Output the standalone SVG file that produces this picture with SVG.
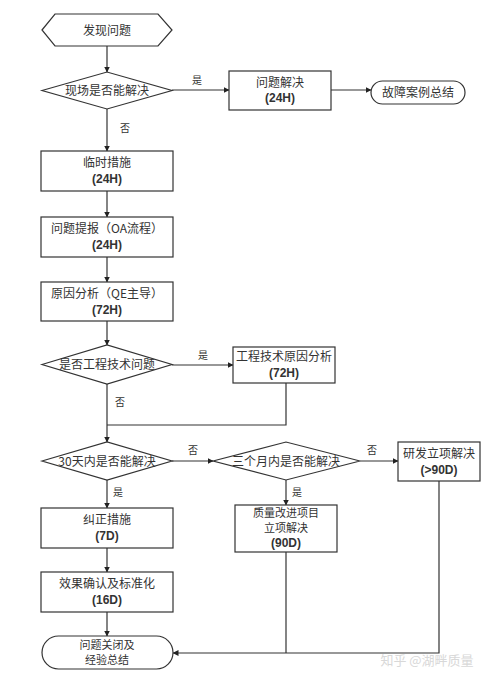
<svg xmlns="http://www.w3.org/2000/svg" width="491" height="682" viewBox="0 0 491 682">
<defs>
<marker id="ah" markerWidth="6" markerHeight="6" refX="5.5" refY="3" orient="auto" markerUnits="userSpaceOnUse">
<path d="M0,0 L6,3 L0,6 Z" fill="#222"/>
</marker>
<style>
.s{fill:#fff;stroke:#333;stroke-width:1.2}
.t{font-family:"Noto Sans CJK SC","Liberation Sans",sans-serif;font-size:12px;fill:#333;text-anchor:middle}
.m{font-family:"Noto Sans CJK SC","Liberation Sans",sans-serif;font-size:11px;fill:#333;text-anchor:middle}
.b{font-family:"Liberation Sans","Noto Sans CJK SC",sans-serif;font-size:12px;font-weight:bold;fill:#333;text-anchor:middle}
.l{font-family:"Noto Sans CJK SC",sans-serif;font-size:10px;fill:#333;text-anchor:middle}
.c{fill:none;stroke:#333;stroke-width:1.2}
</style>
</defs>
<rect width="491" height="682" fill="#fff"/>
<g id="connectors">
<path class="c" d="M107,46 V72" marker-end="url(#ah)"/>
<path class="c" d="M172,90 H229" marker-end="url(#ah)"/>
<path class="c" d="M331,90 H371" marker-end="url(#ah)"/>
<path class="c" d="M107,109 V151" marker-end="url(#ah)"/>
<path class="c" d="M107,191 V217" marker-end="url(#ah)"/>
<path class="c" d="M107,257 V282" marker-end="url(#ah)"/>
<path class="c" d="M107,321 V345" marker-end="url(#ah)"/>
<path class="c" d="M172,365 H233" marker-end="url(#ah)"/>
<path class="c" d="M107,384 V442" marker-end="url(#ah)"/>
<path class="c" d="M286,383 V425 H107"/>
<path class="c" d="M172,461 H213" marker-end="url(#ah)"/>
<path class="c" d="M360,461 H398" marker-end="url(#ah)"/>
<path class="c" d="M107,480 V508" marker-end="url(#ah)"/>
<path class="c" d="M286,480 V505" marker-end="url(#ah)"/>
<path class="c" d="M107,548 V572" marker-end="url(#ah)"/>
<path class="c" d="M107,612 V636" marker-end="url(#ah)"/>
<path class="c" d="M439,481 V653 H173" marker-end="url(#ah)"/>
<path class="c" d="M286,552 V653"/>
<text class="l" x="197" y="84">是</text>
<text class="l" x="125" y="132">否</text>
<text class="l" x="203" y="359">是</text>
<text class="l" x="120" y="406">否</text>
<text class="l" x="193" y="454">否</text>
<text class="l" x="372" y="454">否</text>
<text class="l" x="118" y="496">是</text>
<text class="l" x="297" y="496">是</text>
</g>
<g id="n-start">
<polygon class="s" points="42,30 55,14 158,14 172,30 158,46 55,46"/>
<text class="t" x="107" y="34.5">发现问题</text>
</g>
<g id="n-d1">
<polygon class="s" points="42,90.5 107,72 172,90.5 107,109"/>
<text class="t" x="107" y="95">现场是否能解决</text>
</g>
<g id="n-solved">
<rect class="s" x="229" y="71" width="102" height="39"/>
<text class="t" x="280" y="87">问题解决</text>
<text class="b" x="280" y="102">(24H)</text>
</g>
<g id="n-case">
<rect class="s" x="371" y="81" width="94" height="23" rx="11.5"/>
<text class="t" x="418" y="97">故障案例总结</text>
</g>
<g id="n-temp">
<rect class="s" x="41" y="151" width="132" height="40"/>
<text class="t" x="107" y="167">临时措施</text>
<text class="b" x="107" y="183">(24H)</text>
</g>
<g id="n-report">
<rect class="s" x="41" y="217" width="132" height="40"/>
<text class="t" x="107" y="233">问题提报（OA流程）</text>
<text class="b" x="107" y="249">(24H)</text>
</g>
<g id="n-cause">
<rect class="s" x="41" y="282" width="132" height="39"/>
<text class="t" x="107" y="298">原因分析（QE主导）</text>
<text class="b" x="107" y="314">(72H)</text>
</g>
<g id="n-d2">
<polygon class="s" points="42,364.5 107,345 172,364.5 107,384"/>
<text class="t" x="107" y="369">是否工程技术问题</text>
</g>
<g id="n-eng">
<rect class="s" x="233" y="347" width="102" height="36"/>
<text class="t" x="284" y="361">工程技术原因分析</text>
<text class="b" x="284" y="377">(72H)</text>
</g>
<g id="n-d3">
<polygon class="s" points="42,461 107,442 172,461 107,480"/>
<text class="t" x="107" y="465.5">30天内是否能解决</text>
</g>
<g id="n-d4">
<polygon class="s" points="213,461 286,442 360,461 286,480"/>
<text class="t" x="286" y="465.5">三个月内是否能解决</text>
</g>
<g id="n-rd">
<rect class="s" x="398" y="442" width="82" height="39"/>
<text class="t" x="439" y="458">研发立项解决</text>
<text class="b" x="439" y="474">(&gt;90D)</text>
</g>
<g id="n-correct">
<rect class="s" x="41" y="508" width="132" height="40"/>
<text class="t" x="107" y="524">纠正措施</text>
<text class="b" x="107" y="540">(7D)</text>
</g>
<g id="n-qip">
<rect class="s" x="235" y="505" width="102" height="47"/>
<text class="m" x="286" y="517">质量改进项目</text>
<text class="m" x="286" y="532">立项解决</text>
<text class="b" x="286" y="547">(90D)</text>
</g>
<g id="n-std">
<rect class="s" x="41" y="572" width="132" height="40"/>
<text class="t" x="107" y="588">效果确认及标准化</text>
<text class="b" x="107" y="604">(16D)</text>
</g>
<g id="n-end">
<rect class="s" x="42" y="636" width="131" height="33" rx="16.5"/>
<text class="m" x="107" y="649">问题关闭及</text>
<text class="m" x="107" y="664">经验总结</text>
</g>
<text x="427" y="665" font-family="Noto Sans CJK SC,sans-serif" font-size="13" fill="#d8d8d8" text-anchor="middle">知乎 @湖畔质量</text>
</svg>
